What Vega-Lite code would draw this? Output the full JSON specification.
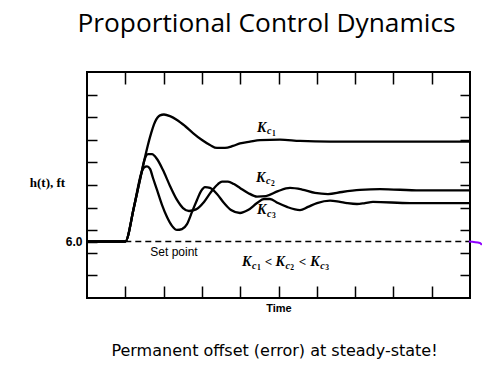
{
  "$schema": "https://vega.github.io/schema/vega-lite/v6.json",
  "width": 383,
  "height": 226,
  "autosize": {"type": "none"},
  "padding": {"left": 87, "top": 72, "right": 12, "bottom": 70},
  "background": "white",
  "title": {
    "text": "Permanent offset (error) at steady-state!",
    "orient": "bottom",
    "anchor": "middle",
    "frame": "group",
    "dx": -4,
    "offset": 29,
    "font": "DejaVu Sans",
    "fontSize": 16,
    "fontWeight": "normal",
    "color": "black"
  },
  "config": {
    "view": {"stroke": "black", "strokeWidth": 2},
    "axis": {"tickColor": "black", "tickWidth": 1.5, "labelColor": "black", "titleColor": "black", "domain": false, "grid": false}
  },
  "datasets": {
    "curves": [
      {"curve": "K1", "t": 0, "u": 6.0}, {"curve": "K1", "t": 1.0, "u": 6.0}, {"curve": "K1", "t": 1.227, "u": 7.53}, {"curve": "K1", "t": 1.428, "u": 9.08}, {"curve": "K1", "t": 1.54, "u": 9.92}, {"curve": "K1", "t": 1.645, "u": 10.62}, {"curve": "K1", "t": 1.775, "u": 11.29}, {"curve": "K1", "t": 1.906, "u": 11.58}, {"curve": "K1", "t": 2.01, "u": 11.62}, {"curve": "K1", "t": 2.167, "u": 11.55}, {"curve": "K1", "t": 2.35, "u": 11.38}, {"curve": "K1", "t": 2.559, "u": 11.11}, {"curve": "K1", "t": 2.768, "u": 10.8}, {"curve": "K1", "t": 3.003, "u": 10.49}, {"curve": "K1", "t": 3.211, "u": 10.27}, {"curve": "K1", "t": 3.394, "u": 10.14}, {"curve": "K1", "t": 3.603, "u": 10.14}, {"curve": "K1", "t": 3.812, "u": 10.23}, {"curve": "K1", "t": 3.995, "u": 10.34}, {"curve": "K1", "t": 4.256, "u": 10.42}, {"curve": "K1", "t": 4.517, "u": 10.49}, {"curve": "K1", "t": 5.039, "u": 10.51}, {"curve": "K1", "t": 5.561, "u": 10.45}, {"curve": "K1", "t": 6.345, "u": 10.42}, {"curve": "K1", "t": 8.172, "u": 10.42}, {"curve": "K1", "t": 10, "u": 10.42},
      {"curve": "K2", "t": 0, "u": 6.0}, {"curve": "K2", "t": 1.0, "u": 6.0}, {"curve": "K2", "t": 1.227, "u": 7.53}, {"curve": "K2", "t": 1.428, "u": 9.08}, {"curve": "K2", "t": 1.501, "u": 9.61}, {"curve": "K2", "t": 1.593, "u": 9.87}, {"curve": "K2", "t": 1.697, "u": 9.87}, {"curve": "K2", "t": 1.828, "u": 9.65}, {"curve": "K2", "t": 1.984, "u": 9.16}, {"curve": "K2", "t": 2.167, "u": 8.46}, {"curve": "K2", "t": 2.35, "u": 7.84}, {"curve": "K2", "t": 2.507, "u": 7.48}, {"curve": "K2", "t": 2.663, "u": 7.35}, {"curve": "K2", "t": 2.846, "u": 7.42}, {"curve": "K2", "t": 3.055, "u": 7.75}, {"curve": "K2", "t": 3.238, "u": 8.19}, {"curve": "K2", "t": 3.42, "u": 8.54}, {"curve": "K2", "t": 3.525, "u": 8.65}, {"curve": "K2", "t": 3.681, "u": 8.65}, {"curve": "K2", "t": 3.838, "u": 8.54}, {"curve": "K2", "t": 3.995, "u": 8.37}, {"curve": "K2", "t": 4.204, "u": 8.15}, {"curve": "K2", "t": 4.439, "u": 7.99}, {"curve": "K2", "t": 4.674, "u": 8.01}, {"curve": "K2", "t": 4.987, "u": 8.23}, {"curve": "K2", "t": 5.3, "u": 8.37}, {"curve": "K2", "t": 5.614, "u": 8.3}, {"curve": "K2", "t": 5.953, "u": 8.15}, {"curve": "K2", "t": 6.292, "u": 8.1}, {"curve": "K2", "t": 6.658, "u": 8.19}, {"curve": "K2", "t": 7.128, "u": 8.28}, {"curve": "K2", "t": 7.65, "u": 8.32}, {"curve": "K2", "t": 8.695, "u": 8.26}, {"curve": "K2", "t": 10, "u": 8.26},
      {"curve": "K3", "t": 0, "u": 6.0}, {"curve": "K3", "t": 1.0, "u": 6.0}, {"curve": "K3", "t": 1.227, "u": 7.53}, {"curve": "K3", "t": 1.428, "u": 9.08}, {"curve": "K3", "t": 1.488, "u": 9.27}, {"curve": "K3", "t": 1.567, "u": 9.32}, {"curve": "K3", "t": 1.645, "u": 9.21}, {"curve": "K3", "t": 1.723, "u": 8.81}, {"curve": "K3", "t": 1.828, "u": 8.28}, {"curve": "K3", "t": 1.958, "u": 7.62}, {"curve": "K3", "t": 2.089, "u": 7.08}, {"curve": "K3", "t": 2.219, "u": 6.69}, {"curve": "K3", "t": 2.35, "u": 6.51}, {"curve": "K3", "t": 2.48, "u": 6.55}, {"curve": "K3", "t": 2.611, "u": 6.77}, {"curve": "K3", "t": 2.742, "u": 7.31}, {"curve": "K3", "t": 2.872, "u": 7.84}, {"curve": "K3", "t": 2.977, "u": 8.23}, {"curve": "K3", "t": 3.081, "u": 8.41}, {"curve": "K3", "t": 3.211, "u": 8.37}, {"curve": "K3", "t": 3.394, "u": 8.1}, {"curve": "K3", "t": 3.577, "u": 7.7}, {"curve": "K3", "t": 3.76, "u": 7.39}, {"curve": "K3", "t": 3.995, "u": 7.26}, {"curve": "K3", "t": 4.204, "u": 7.39}, {"curve": "K3", "t": 4.439, "u": 7.7}, {"curve": "K3", "t": 4.621, "u": 7.88}, {"curve": "K3", "t": 4.778, "u": 7.88}, {"curve": "K3", "t": 4.987, "u": 7.7}, {"curve": "K3", "t": 5.222, "u": 7.53}, {"curve": "K3", "t": 5.561, "u": 7.39}, {"curve": "K3", "t": 5.77, "u": 7.53}, {"curve": "K3", "t": 6.005, "u": 7.7}, {"curve": "K3", "t": 6.345, "u": 7.81}, {"curve": "K3", "t": 6.606, "u": 7.75}, {"curve": "K3", "t": 6.789, "u": 7.7}, {"curve": "K3", "t": 7.05, "u": 7.66}, {"curve": "K3", "t": 7.258, "u": 7.7}, {"curve": "K3", "t": 7.467, "u": 7.75}, {"curve": "K3", "t": 8.433, "u": 7.7}, {"curve": "K3", "t": 10, "u": 7.7}
    ],
    "setpoint": [{"t": 1.0, "u": 6.0}, {"t": 10, "u": 6.0}],
    "pen": [{"t": 9.97, "u": 6.0}, {"t": 10.26, "u": 5.93}, {"t": 10.31, "u": 5.85}],
    "notes": [
      {"kind": "K", "txt": "K", "t": 4.44, "u": 11.04}, {"kind": "sub", "txt": "c", "t": 4.7, "u": 11.04}, {"kind": "dig", "txt": "1", "t": 4.83, "u": 11.04},
      {"kind": "K", "txt": "K", "t": 4.414, "u": 8.81}, {"kind": "sub", "txt": "c", "t": 4.674, "u": 8.81}, {"kind": "dig", "txt": "2", "t": 4.804, "u": 8.81},
      {"kind": "K", "txt": "K", "t": 4.44, "u": 7.39}, {"kind": "sub", "txt": "c", "t": 4.7, "u": 7.39}, {"kind": "dig", "txt": "3", "t": 4.83, "u": 7.39},
      {"kind": "K", "txt": "K", "t": 4.05, "u": 5.09}, {"kind": "sub", "txt": "c", "t": 4.31, "u": 5.09}, {"kind": "dig", "txt": "1", "t": 4.44, "u": 5.09},
      {"kind": "lt", "txt": "<", "t": 4.64, "u": 5.09},
      {"kind": "K", "txt": "K", "t": 4.92, "u": 5.09}, {"kind": "sub", "txt": "c", "t": 5.18, "u": 5.09}, {"kind": "dig", "txt": "2", "t": 5.31, "u": 5.09},
      {"kind": "lt", "txt": "<", "t": 5.53, "u": 5.09},
      {"kind": "K", "txt": "K", "t": 5.83, "u": 5.09}, {"kind": "sub", "txt": "c", "t": 6.09, "u": 5.09}, {"kind": "dig", "txt": "3", "t": 6.22, "u": 5.09},
      {"kind": "set", "txt": "Set point", "t": 2.272, "u": 5.54}
    ]
  },
  "layer": [
    {
      "data": {"name": "curves"},
      "mark": {"type": "line", "color": "black", "strokeWidth": 2.3, "interpolate": "monotone"},
      "encoding": {
        "x": {"field": "t", "type": "quantitative", "scale": {"domain": [0, 10], "nice": false},
          "axis": {"orient": "bottom", "values": [1, 2, 3, 4, 5, 6, 7, 8, 9], "tickSize": -12, "labels": false,
            "title": "Time", "titleFont": "Liberation Sans", "titleFontSize": 11, "titleFontWeight": "bold", "titlePadding": 4}},
        "y": {"field": "u", "type": "quantitative", "scale": {"domain": [3.5, 13.5], "nice": false, "zero": false},
          "axis": {"orient": "left", "values": [4.5, 5.5, 6, 6.5, 7.5, 8.5, 9.5, 10.5, 11.5, 12.5], "tickSize": -10,
            "labelExpr": "datum.value == 6 ? '6.0' : ''", "labelFont": "Liberation Sans", "labelFontSize": 12, "labelFontWeight": "bold", "labelPadding": 15,
            "title": "h(t), ft", "titleAngle": 0, "titleAlign": "center", "titleBaseline": "middle", "titleX": -40, "titleY": 110,
            "titleFont": "Liberation Serif", "titleFontSize": 13, "titleFontWeight": "bold"}},
        "detail": {"field": "curve"}
      }
    },
    {
      "data": {"name": "setpoint"},
      "mark": {"type": "line", "color": "black", "strokeWidth": 1.5, "strokeDash": [6, 4]},
      "encoding": {
        "x": {"field": "t", "type": "quantitative",
          "axis": {"orient": "top", "values": [1, 2, 3, 4, 5, 6, 7, 8, 9], "tickSize": -12, "labels": false,
            "title": "Proportional Control Dynamics", "titleFont": "Open Sans", "titleFontSize": 26.3, "titleFontWeight": "normal",
            "titleX": 179, "titleY": -41, "titleAlign": "center", "titleBaseline": "alphabetic"}},
        "y": {"field": "u", "type": "quantitative",
          "axis": {"orient": "right", "values": [4.5, 5.5, 6.5, 7.5, 8.5, 9.5, 10.5, 11.5, 12.5], "tickSize": -10, "labels": false, "title": null}}
      }
    },
    {
      "data": {"name": "pen"},
      "mark": {"type": "line", "color": "#8F00FF", "strokeWidth": 2, "clip": false, "interpolate": "monotone"},
      "encoding": {
        "x": {"field": "t", "type": "quantitative", "axis": null},
        "y": {"field": "u", "type": "quantitative", "axis": null}
      }
    },
    {
      "data": {"name": "notes"},
      "transform": [{"filter": "datum.kind == 'K'"}],
      "mark": {"type": "text", "align": "left", "baseline": "middle", "font": "Liberation Serif", "fontStyle": "italic", "fontWeight": "bold", "fontSize": 14, "color": "black"},
      "encoding": {
        "x": {"field": "t", "type": "quantitative", "axis": null},
        "y": {"field": "u", "type": "quantitative", "axis": null},
        "text": {"field": "txt"}
      }
    },
    {
      "data": {"name": "notes"},
      "transform": [{"filter": "datum.kind == 'sub'"}],
      "mark": {"type": "text", "align": "left", "baseline": "middle", "dy": 3.5, "font": "Liberation Serif", "fontStyle": "italic", "fontWeight": "bold", "fontSize": 10, "color": "black"},
      "encoding": {
        "x": {"field": "t", "type": "quantitative", "axis": null},
        "y": {"field": "u", "type": "quantitative", "axis": null},
        "text": {"field": "txt"}
      }
    },
    {
      "data": {"name": "notes"},
      "transform": [{"filter": "datum.kind == 'dig'"}],
      "mark": {"type": "text", "align": "left", "baseline": "middle", "dy": 6, "font": "Liberation Serif", "fontWeight": "bold", "fontSize": 7.5, "color": "black"},
      "encoding": {
        "x": {"field": "t", "type": "quantitative", "axis": null},
        "y": {"field": "u", "type": "quantitative", "axis": null},
        "text": {"field": "txt"}
      }
    },
    {
      "data": {"name": "notes"},
      "transform": [{"filter": "datum.kind == 'lt'"}],
      "mark": {"type": "text", "align": "left", "baseline": "middle", "font": "Liberation Serif", "fontWeight": "bold", "fontSize": 13, "color": "black"},
      "encoding": {
        "x": {"field": "t", "type": "quantitative", "axis": null},
        "y": {"field": "u", "type": "quantitative", "axis": null},
        "text": {"field": "txt"}
      }
    },
    {
      "data": {"name": "notes"},
      "transform": [{"filter": "datum.kind == 'set'"}],
      "mark": {"type": "text", "align": "center", "baseline": "middle", "font": "Liberation Sans", "fontSize": 12, "color": "black"},
      "encoding": {
        "x": {"field": "t", "type": "quantitative", "axis": null},
        "y": {"field": "u", "type": "quantitative", "axis": null},
        "text": {"field": "txt"}
      }
    }
  ],
  "resolve": {"axis": {"x": "independent", "y": "independent"}}
}
